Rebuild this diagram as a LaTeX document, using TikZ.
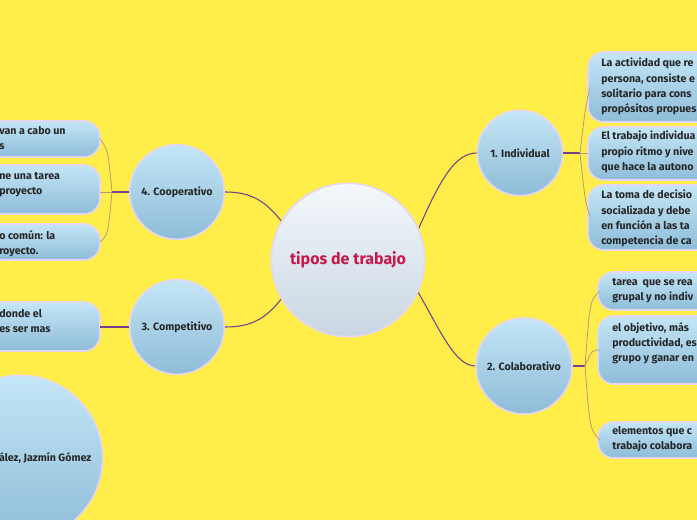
\documentclass[tikz,border=0pt]{standalone}
\usepackage{fontspec}
\setmainfont{Fira Sans}
\definecolor{bg}{HTML}{FFEE4A}
\definecolor{btop}{HTML}{C4E6F7}
\definecolor{bbot}{HTML}{8EBCD8}
\definecolor{bord}{HTML}{E4D6F2}
\definecolor{ttl}{HTML}{C8174A}
\definecolor{conn}{HTML}{7A3E8A}
\definecolor{conn2}{HTML}{B89A7A}
\definecolor{ctop}{HTML}{F4F8FC}
\definecolor{cbot}{HTML}{C9D6E2}
\tikzset{
 bub/.style={draw=bord,line width=1.2pt,top color=btop,bottom color=bbot},
 sub/.style={bub,circle,inner sep=0pt,font=\bfseries\fontsize{8}{9}\selectfont,text=black!85},
 box/.style={bub,rounded corners=12pt},
 txt/.style={anchor=north west,align=left,font=\bfseries\fontsize{8}{11.5}\selectfont,text=black!85,inner sep=0pt},
 main/.style={draw=conn,line width=0.8pt},
 minor/.style={draw=conn2,line width=0.6pt},
}
\begin{document}
\begin{tikzpicture}[x=0.75pt,y=-0.75pt]
\fill[bg] (0,0) rectangle (697,520);
\useasboundingbox (0,0) rectangle (697,520);
\clip (0,0) rectangle (697,520);
\node[sub,minimum size=64pt] (ind) at (520,153) {1. Individual};
\node[sub,minimum size=72pt] (col) at (524,366) {2. Colaborativo};
\node[sub,minimum size=71pt] (coo) at (177,192) {4. Cooperativo};
\node[sub,minimum size=71pt] (com) at (177,327) {3. Competitivo};
\draw[main] (ind.west) .. controls (455,153) and (440,180) .. (418,230);
\draw[main] (col.west) .. controls (455,366) and (440,330) .. (418,292);
\draw[main] (coo.east) .. controls (250,192) and (265,200) .. (282,222);
\draw[main] (com.east) .. controls (250,327) and (265,320) .. (282,298);
\node[circle,draw=bord,line width=1.2pt,top color=ctop,bottom color=cbot,minimum size=115pt,font=\bfseries\fontsize{12}{14}\selectfont,text=ttl] (cen) at (348,260) {tipos de trabajo};
% right boxes individual
\draw[box] (588,52) rectangle (760,122);
\draw[box] (588,127) rectangle (760,180);
\draw[box] (588,185) rectangle (760,250);
\node[txt] (t1) at (601,58) {La actividad que re\\persona, consiste e\\solitario para cons\\propósitos propues};
\node[txt] (t2) at (601,131) {El trabajo individua\\propio ritmo y nive\\que hace la autono};
\node[txt] (t3) at (601,190) {La toma de decisio\\socializada y debe\\en función a las ta\\competencia de ca};
\coordinate (bI) at (580,153);
\draw[main] (ind.east) -- (bI);
\draw[minor] (bI) .. controls (585,110) .. (590,87);
\draw[minor] (bI) -- (588,153);
\draw[minor] (bI) .. controls (585,200) .. (590,217);
% colaborativo boxes
\draw[box] (598,272) rectangle (760,310);
\draw[box] (598,316) rectangle (760,384);
\draw[box] (598,422) rectangle (760,458);
\node[txt] (c1) at (612,278) {tarea \ que se rea\\grupal y no indiv};
\node[txt] (c2) at (612,322) {el objetivo, más\\productividad, es\\grupo y ganar en};
\node[txt] (c3) at (612,426) {elementos que c\\trabajo colabora};
\coordinate (bC) at (585,366);
\draw[main] (col.east) -- (bC);
\draw[minor] (bC) .. controls (590,300) .. (600,291);
\draw[minor] (bC) .. controls (592,350) .. (600,350);
\draw[minor] (bC) .. controls (590,430) .. (600,440);
% cooperativo boxes
\draw[box] (-60,121) rectangle (100,157);
\draw[box] (-60,165) rectangle (100,214);
\draw[box] (-60,224) rectangle (100,260);
\node[txt] (p1) at (-1,126) {van a cabo un\\s};
\node[txt] (p2) at (-1,172) {ne una tarea\\proyecto};
\node[txt] (p3) at (-1,230) {o común: la\\royecto.};
\coordinate (bP) at (112,192);
\draw[main] (coo.west) -- (bP);
\draw[minor] (bP) .. controls (108,150) .. (100,139);
\draw[minor] (bP) -- (100,192);
\draw[minor] (bP) .. controls (108,235) .. (100,242);
% competitivo box
\draw[box] (-60,302) rectangle (100,351);
\node[txt] (q1) at (-1,309) {donde el\\es ser mas};
\draw[main] (com.west) -- (100,327);
% big circle
\draw[bub] (20,458) circle[radius=62pt];
\node[anchor=east,font=\bfseries\fontsize{8}{9}\selectfont,text=black!85] (auth) at (96,458) {ález, Jazmín Gómez};
\end{tikzpicture}
\end{document}
